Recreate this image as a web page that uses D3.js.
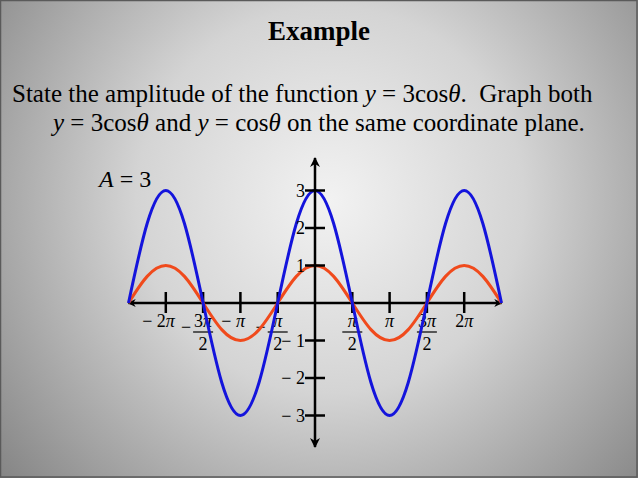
<!DOCTYPE html>
<html><head><meta charset="utf-8">
<script src="https://cdn.jsdelivr.net/npm/d3@7"></script>
<style>
html,body{margin:0;padding:0;background:#fff;}
svg{display:block;}
text{font-family:"Liberation Serif","Times New Roman",serif;fill:#000;}
</style></head>
<body>
<svg id="c" width="638" height="478"></svg>
<script>
// ---- data ----
// sample angles in multiples of pi/4, from -5pi/2 to 5pi/2
const anglesQuarterPi = [-10,-9,-8,-7,-6,-5,-4,-3,-2,-1,0,1,2,3,4,5,6,7,8,9,10];
const series3cos = [0,2.12,3,2.12,0,-2.12,-3,-2.12,0,2.12,3,2.12,0,-2.12,-3,-2.12,0,2.12,3,2.12,0];
const seriesCos  = [0,0.71,1,0.71,0,-0.71,-1,-0.71,0,0.71,1,0.71,0,-0.71,-1,-0.71,0,0.71,1,0.71,0];
// x ticks in multiples of pi/2
const xTickHalfPi = [-4,-3,-2,-1,1,2,3,4];
const xTickNum = ["2π","3π","π","π","π","π","3π","2π"];
const xTickDen = ["","2","","2","2","","2",""];
const yTicks = [-3,-2,-1,1,2,3];
const yTickLabels = ["− 3","− 2","− 1","1","2","3"];

const svg = d3.select("#c");
const W = 638, H = 478;
const PI = Math.PI;

// background
const defs = svg.append("defs");
const rg = defs.append("radialGradient").attr("id","bg")
  .attr("gradientUnits","userSpaceOnUse").attr("cx",330).attr("cy",200).attr("r",430);
rg.append("stop").attr("offset","0").attr("stop-color","#f2f2f2");
rg.append("stop").attr("offset","0.45").attr("stop-color","#d4d4d4");
rg.append("stop").attr("offset","1").attr("stop-color","#858585");
svg.append("rect").attr("width",W).attr("height",H).attr("fill","url(#bg)");
svg.append("rect").attr("x",0.5).attr("y",0.5).attr("width",W-1.5).attr("height",H-1.5)
  .attr("fill","none").attr("stroke","#5a5a5a").attr("stroke-width",1.5);

// title
svg.append("text").attr("x",319).attr("y",40).attr("text-anchor","middle")
  .attr("font-size",27).attr("font-weight","bold").text("Example");

function richLine(x, y, size, parts){
  const t = svg.append("text").attr("x",x).attr("y",y).attr("font-size",size)
    .style("white-space","pre");
  parts.forEach(p=>{
    const s = t.append("tspan").text(p[0]);
    if(p[1]) s.attr("font-style","italic");
  });
  return t;
}
richLine(12,102,25,[["State the amplitude of the function "],["y",1],[" = 3cos"],["θ",1],[".  Graph both"]]);
richLine(53,131,25,[["y",1],[" = 3cos"],["θ",1],[" and "],["y",1],[" = cos"],["θ",1],[" on the same coordinate plane."]]);
richLine(99,187,24,[["A",1],[" = 3"]]);

// scales
const x = d3.scaleLinear().domain([-5*PI/2, 5*PI/2]).range([128.5, 501.5]);
const y = d3.scaleLinear().domain([-3, 3]).range([415.5, 190.5]);
const x0 = x(0), y0 = y(0);

// arrow markers
function marker(id, size){
  defs.append("marker").attr("id",id).attr("viewBox","0 0 10 10").attr("refX",9).attr("refY",5)
    .attr("markerWidth",size).attr("markerHeight",size).attr("orient","auto-start-reverse")
    .attr("markerUnits","userSpaceOnUse")
    .append("path").attr("d","M0,0 L10,5 L0,10 L3,5 Z").attr("fill","#000");
}
marker("arr",10);
marker("arrS",8);

// x axis
svg.append("line").attr("x1",x(-5*PI/2)).attr("x2",x(5*PI/2)).attr("y1",y0).attr("y2",y0)
  .attr("stroke","#000").attr("stroke-width",2.5)
  .attr("marker-start","url(#arrS)").attr("marker-end","url(#arrS)");
// x ticks
svg.selectAll(".xt").data(xTickHalfPi).enter().append("line")
  .attr("x1",d=>x(d*PI/2)).attr("x2",d=>x(d*PI/2)).attr("y1",y0-11).attr("y2",y0+10)
  .attr("stroke","#000").attr("stroke-width",2.5);

// x tick labels
xTickHalfPi.forEach((d,i)=>{
  const cx = x(d*PI/2);
  const g = svg.append("g").attr("font-size",18);
  const num = xTickNum[i], den = xTickDen[i];
  const neg = d < 0;
  function numText(tx, ty, anchor){
    const t = g.append("text").attr("x",tx).attr("y",ty).attr("text-anchor",anchor);
    const m = num.match(/^(\d*)(π)$/);
    if(m[1]) t.append("tspan").text(m[1]);
    t.append("tspan").attr("font-style","italic").text(m[2]);
    return t;
  }
  if(den){
    numText(cx, 327, "middle");
    g.append("line").attr("x1",cx-10).attr("x2",cx+10).attr("y1",332).attr("y2",332)
      .attr("stroke","#000").attr("stroke-width",1.2);
    g.append("text").attr("x",cx).attr("y",350).attr("text-anchor","middle").text(den);
    if(neg) g.append("text").attr("x",cx-12).attr("y",333).attr("text-anchor","end").text("−");
  } else {
    numText(cx, 327, "middle");
    if(neg){
      const w = num.length>1 ? 19 : 10;
      g.append("text").attr("x",cx - w/2 - 4).attr("y",327).attr("text-anchor","end").text("−");
    }
  }
});

// curves
const line = d3.line().x(d=>x(d[0]*PI/4)).y(d=>y(d[1])).curve(d3.curveNatural);
svg.append("path").datum(anglesQuarterPi.map((a,i)=>[a,seriesCos[i]]))
  .attr("d",line).attr("fill","none").attr("stroke","#f04a1c").attr("stroke-width",3);
svg.append("path").datum(anglesQuarterPi.map((a,i)=>[a,series3cos[i]]))
  .attr("d",line).attr("fill","none").attr("stroke","#1414dc").attr("stroke-width",3);

// y axis
svg.append("line").attr("x1",x0).attr("x2",x0).attr("y1",447).attr("y2",158)
  .attr("stroke","#000").attr("stroke-width",2.5)
  .attr("marker-start","url(#arr)").attr("marker-end","url(#arr)");
svg.selectAll(".yt").data(yTicks).enter().append("line")
  .attr("x1",x0-10).attr("x2",x0+10).attr("y1",d=>y(d)).attr("y2",d=>y(d))
  .attr("stroke","#000").attr("stroke-width",2.5);
svg.selectAll(".yl").data(yTicks).enter().append("text")
  .attr("x",x0-10).attr("y",d=>y(d)+6).attr("text-anchor","end").attr("font-size",18)
  .style("white-space","pre")
  .text((d,i)=>yTickLabels[i]);
</script>
</body></html>
